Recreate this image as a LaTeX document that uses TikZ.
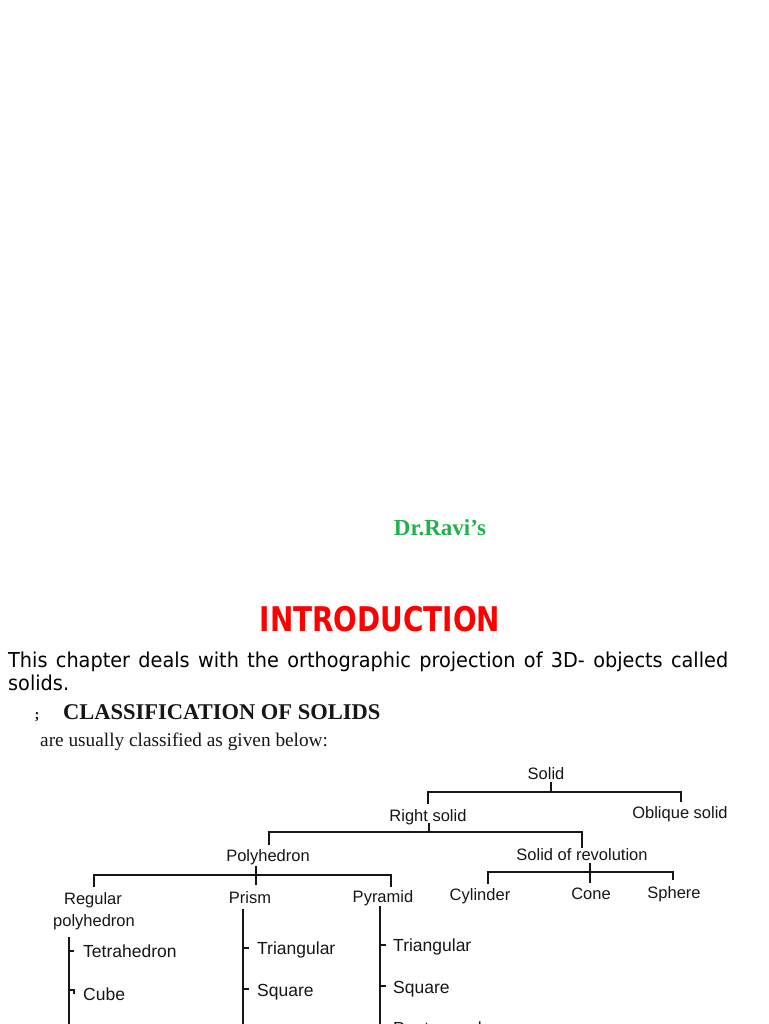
\documentclass[tikz,border=0pt]{standalone}
\usepackage{fontspec}
\setmainfont{Liberation Serif}
\newfontfamily\tah[FakeStretch=0.94]{DejaVu Sans}
\newfontfamily\introfont[FakeStretch=0.82]{DejaVu Sans}
\newfontfamily\arl{Liberation Sans}
\definecolor{drgreen}{RGB}{34,177,76}
\definecolor{ink}{RGB}{22,22,22}
\begin{document}
\begin{tikzpicture}[x=1pt,y=-1pt,
  lab/.style={font=\arl\fontsize{16.5}{18}\selectfont, text=ink, inner sep=0pt, anchor=base},
  item/.style={font=\arl\fontsize{17.5}{19}\selectfont, text=ink, inner sep=0pt, anchor=base west},
  ln/.style={draw=ink, line width=1.3pt}]
\useasboundingbox (0,0) rectangle (768,1024);
\clip (0,0) rectangle (768,1024);

% header texts
\node[font=\bfseries\fontsize{23}{25}\selectfont, text=drgreen, inner sep=0pt, anchor=base] (dr) at (440,535) {Dr.Ravi’s};
\node[font=\introfont\bfseries\fontsize{34}{36}\selectfont, text=red, inner sep=0pt, anchor=base] (intro) at (380,631) {INTRODUCTION};
\node[font=\tah\fontsize{20.5}{23}\selectfont, inner sep=0pt, anchor=base west] (p1) at (8,667)
  {\makebox[720pt][s]{This chapter deals with the orthographic projection of 3D- objects called}};
\node[font=\tah\fontsize{20.5}{23}\selectfont, inner sep=0pt, anchor=base west] (p2) at (8,690) {solids.};

% scanned page heading
\node[font=\bfseries\fontsize{15}{17}\selectfont, text=ink, inner sep=0pt, anchor=base] (semi) at (37,719) {;};
\node[font=\bfseries\fontsize{22.5}{25}\selectfont, text=ink, inner sep=0pt, anchor=base west] (cls) at (63,719) {CLASSIFICATION OF SOLIDS};
\node[font=\fontsize{19.3}{22}\selectfont, text=ink, inner sep=0pt, anchor=base west] (usu) at (40,746) {are usually classified as given below:};

% tree labels
\node[lab] (solid) at (546,779) {Solid};
\node[lab] (rs) at (428,821) {Right solid};
\node[lab] (os) at (680,818) {Oblique solid};
\node[lab] (poly) at (268,861) {Polyhedron};
\node[lab] (sor) at (582,860) {Solid of revolution};
\node[lab] (reg) at (93,904) {Regular};
\node[lab] (reg2) at (94,926) {polyhedron};
\node[lab] (prism) at (250,903) {Prism};
\node[lab] (pyr) at (383,902) {Pyramid};
\node[lab] (cyl) at (480,900) {Cylinder};
\node[lab] (cone) at (591,899) {Cone};
\node[lab] (sph) at (674,898) {Sphere};

\node[item] (tet) at (83,957) {Tetrahedron};
\node[item] (cube) at (83,1000) {Cube};
\node[item] (ptri) at (257,954) {Triangular};
\node[item] (psq) at (257,996) {Square};
\node[item] (ytri) at (393,951) {Triangular};
\node[item] (ysq) at (393,993) {Square};
\node[item] (ypen) at (393,1034) {Pentagonal};

% connector junctions
\coordinate (s0) at (551,782); \coordinate (s1) at (551,792);
\coordinate (s2) at (428,792); \coordinate (s3) at (681,792);
\coordinate (s4) at (428,804); \coordinate (s5) at (681,802);
\draw[ln] (s0) -- (s1);
\draw[ln] (s4) -- (s2) -- (s3) -- (s5);

\coordinate (r0) at (429,823); \coordinate (r1) at (429,832);
\coordinate (r2) at (269,832); \coordinate (r3) at (582,832);
\coordinate (r4) at (269,845); \coordinate (r5) at (582,848);
\draw[ln] (r0) -- (r1);
\draw[ln] (r4) -- (r2) -- (r3) -- (r5);

\coordinate (p0) at (256,866); \coordinate (p1b) at (256,885);
\coordinate (p2) at (94,875); \coordinate (p3) at (391,875);
\coordinate (p4) at (94,887); \coordinate (p5) at (391,887);
\draw[ln] (p0) -- (p1b);
\draw[ln] (p4) -- (p2) -- (p3) -- (p5);

\coordinate (v0) at (590,863); \coordinate (v1) at (590,883);
\coordinate (v2) at (488,872); \coordinate (v3) at (673,872);
\coordinate (v4) at (488,884); \coordinate (v5) at (673,880);
\draw[ln] (v0) -- (v1);
\draw[ln] (v4) -- (v2) -- (v3) -- (v5);

% vertical lists
\coordinate (a0) at (69,937); \coordinate (a1) at (69,1030);
\draw[ln] (a0) -- (a1);
\draw[ln] (69,951) -- (74,951);
\draw[ln] (74,994) -- (74,990) -- (69,990);

\coordinate (b0) at (243,909); \coordinate (b1) at (243,1030);
\draw[ln] (b0) -- (b1);
\draw[ln] (243,948) -- (249,948);
\draw[ln] (243,989) -- (249,989);

\coordinate (c0) at (380,906); \coordinate (c1) at (380,1030);
\draw[ln] (c0) -- (c1);
\draw[ln] (380,945) -- (386,945);
\draw[ln] (380,986) -- (386,986);
\end{tikzpicture}
\end{document}
